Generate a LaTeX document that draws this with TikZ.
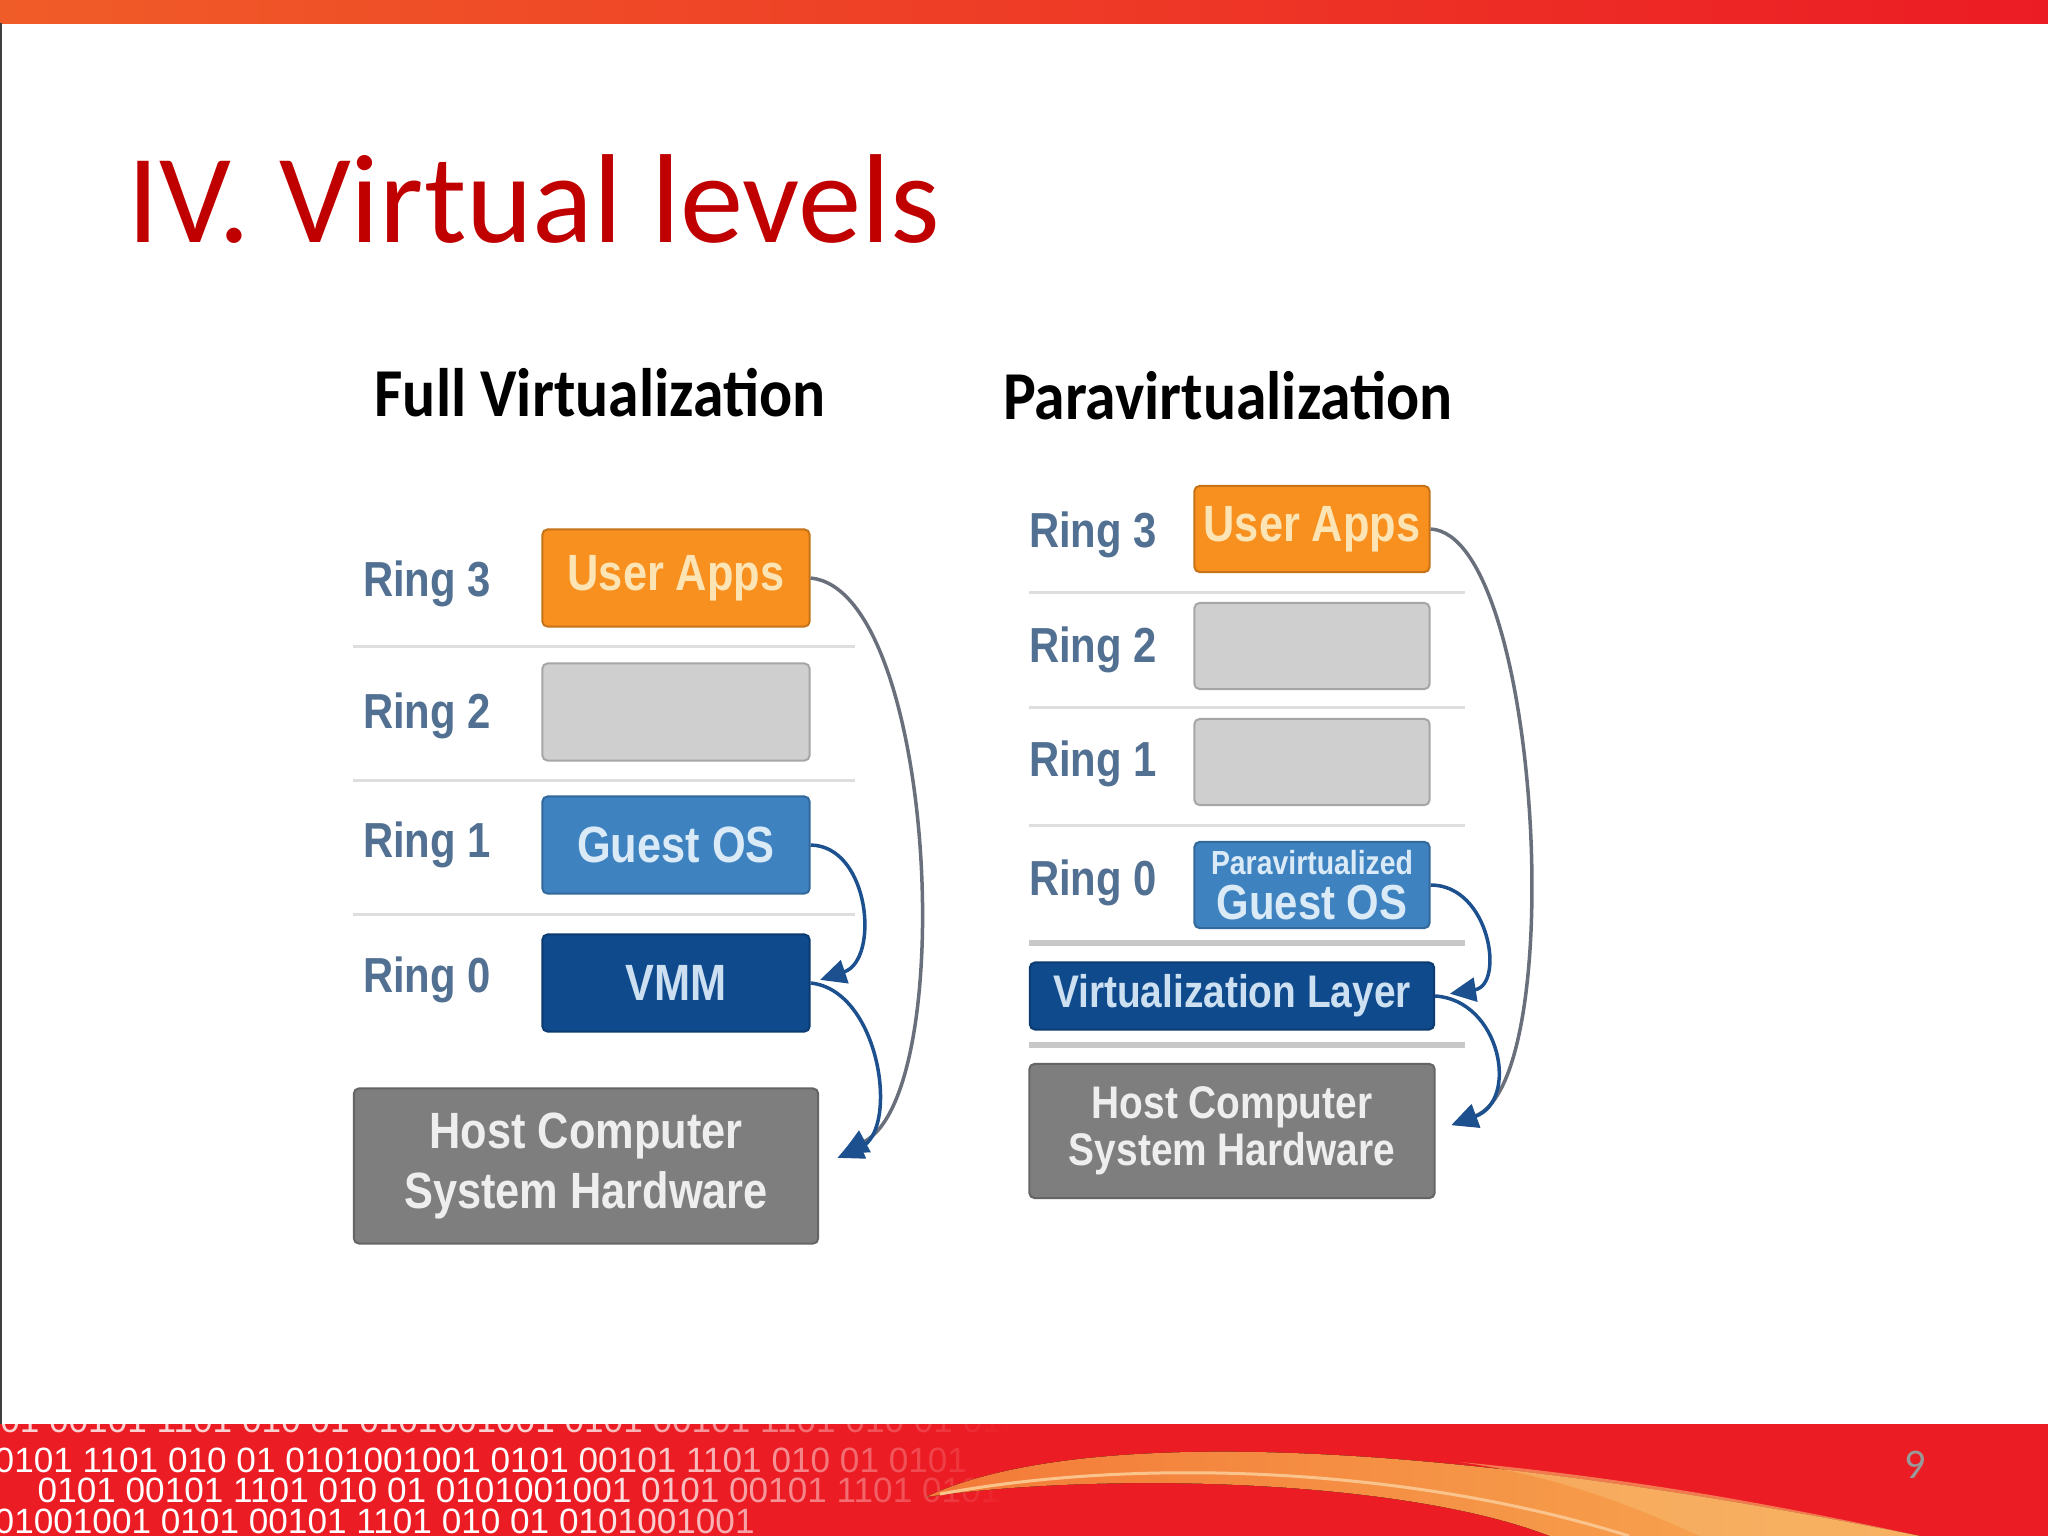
\documentclass[tikz,border=0pt]{standalone}
\usepackage{fontspec}
\usetikzlibrary{arrows.meta,fadings}
\newfontfamily\titlefont{Carlito}
\newfontfamily\headfont[FakeStretch=0.9]{Carlito}
\newfontfamily\boxfont[FakeStretch=0.85]{Liberation Sans}
\newfontfamily\bitfont{Liberation Sans}
\definecolor{titlered}{RGB}{192,0,0}
\definecolor{bandred}{RGB}{236,28,36}
\definecolor{bandorange}{RGB}{240,92,40}
\definecolor{swooshdark}{RGB}{243,122,56}
\definecolor{swooshlight}{RGB}{247,170,82}
\definecolor{swooshline}{RGB}{250,196,140}
\definecolor{ringblue}{RGB}{82,112,146}
\definecolor{appsorange}{RGB}{247,144,30}
\definecolor{appstext}{RGB}{253,228,180}
\definecolor{emptygray}{RGB}{207,207,207}
\definecolor{guestblue}{RGB}{62,130,192}
\definecolor{guesttext}{RGB}{218,234,247}
\definecolor{vmmnavy}{RGB}{14,74,140}
\definecolor{vmmtext}{RGB}{205,224,242}
\definecolor{hostgray}{RGB}{126,126,126}
\definecolor{hosttext}{RGB}{238,238,238}
\definecolor{linkgray}{RGB}{105,112,124}
\definecolor{linknavy}{RGB}{28,80,142}
\definecolor{sepgray}{RGB}{222,222,222}

\begin{document}
\begin{tikzpicture}[x=0.01cm, y=-0.01cm,
    ring/.style={font=\boxfont\bfseries\fontsize{14}{16}\selectfont, text=ringblue},
    head/.style={font=\headfont\bfseries\fontsize{19.5}{22}\selectfont, text=black},
    layer/.style={draw=#1!80!black, fill=#1, rounded corners=0.05cm,
                  line width=0.02cm, inner sep=0pt, align=center,
                  font=\boxfont\bfseries\fontsize{14.5}{16}\selectfont},
    fvbox/.style={layer=#1, minimum width=2.67cm, minimum height=0.97cm},
    pvbox/.style={layer=#1, minimum width=2.35cm, minimum height=0.86cm},
    sep/.style={draw=sepgray, line width=0.03cm},
    thicksep/.style={draw=sepgray!90!black, line width=0.06cm},
    link/.style={-{Triangle[length=0.26cm, width=0.24cm, color=linknavy]},
                 line width=0.035cm, draw=#1},
    bits/.style={font=\bitfont\fontsize{10}{12}\selectfont, text=white, anchor=west, inner sep=0pt}]

  \useasboundingbox (0,0) rectangle (2048,1536);
  \fill[white] (0,0) rectangle (2048,1536);

  % bandeau du haut
  \fill[left color=bandorange, middle color=bandorange!80!bandred,
        right color=bandred] (0,0) rectangle (2048,23);
  \draw[black!75, line width=0.02cm] (1,23) -- (1,1424);

  % titre
  \node[anchor=base west, inner sep=0pt, text=titlered,
        font=\titlefont\fontsize{36}{40}\selectfont] (title) at (127,242) {IV. Virtual levels};

  % bandeau du bas
  \begin{scope}
    \clip (0,1424) rectangle (2048,1536);
    \fill[bandred] (0,1424) rectangle (2048,1536);
    \node[bits, text=white!80!bandred] (bits0) at (-20,1420) {101 00101 1101 010 01 0101001001 0101 00101 1101 010 01 0101};
    \node[bits] (bits1) at (-6,1460) {0101 1101 010 01 0101001001 0101 00101 1101 010 01 0101};
    \node[bits] (bits2) at (37,1490) {0101 00101 1101 010 01 0101001001 0101 00101 1101 0101};
    \node[bits] (bits3) at (-6,1521) {01001001 0101 00101 1101 010 01 0101001001};
    \fill[bandred, path fading=west] (560,1424) rectangle (1010,1536);
    \fill[bandred] (1010,1424) rectangle (1100,1536);
    % vague orange
    \fill[left color=swooshdark, right color=swooshlight]
      (926,1497) .. controls (1050,1438) and (1350,1423) .. (1920,1536)
      -- (1550,1536) .. controls (1400,1478) and (1100,1472) .. cycle;
    \fill[swooshlight!85!white, opacity=0.6]
      (1460,1462) .. controls (1650,1480) and (1800,1510) .. (1920,1536)
      -- (1700,1536) .. controls (1620,1500) and (1550,1475) .. cycle;
    \draw[swooshline, line width=0.03cm]
      (940,1494) .. controls (1150,1455) and (1420,1470) .. (1629,1536);
  \end{scope}
  \node[text=black!40, font=\titlefont\fontsize{12}{14}\selectfont] (pagenum) at (1915,1465) {9};

  % Full Virtualization
  \node[head] (fvHead) at (600,393) {Full Virtualization};

  \draw[sep] (353,646) -- (855,646);
  \draw[sep] (353,780) -- (855,780);
  \draw[sep] (353,914) -- (855,914);

  \node[ring] (fvR3) at (427,584) {Ring 3};
  \node[ring] (fvR2) at (427,716) {Ring 2};
  \node[ring] (fvR1) at (427,845) {Ring 1};
  \node[ring] (fvR0) at (427,980) {Ring 0};

  \node[fvbox=appsorange, text=appstext] (fvApps) at (676,578) {User Apps};
  \node[fvbox=emptygray] (fvRing2) at (676,712) {};
  \node[fvbox=guestblue, text=guesttext] (fvGuest) at (676,845) {Guest OS};
  \node[fvbox=vmmnavy, text=vmmtext] (fvVMM) at (676,983) {VMM};
  \node[layer=hostgray, text=hosttext, minimum width=4.64cm, minimum height=1.55cm,
        font=\boxfont\bfseries\fontsize{14.5}{17}\selectfont] (fvHost) at (586,1166)
        {Host Computer\\System Hardware};

  \draw[link=linkgray, shorten >=0.26cm] (fvApps.east) .. controls (935,590) and (960,1090) .. (fvHost.east);
  \draw[link=linknavy, shorten >=0.1cm] (fvGuest.east) .. controls (870,846) and (880,960) .. (fvVMM.east);
  \draw[link=linknavy, shorten >=0.2cm] (fvVMM.east) .. controls (880,990) and (900,1130) .. (fvHost.east);

  % Paravirtualization
  \node[head] (pvHead) at (1228,396) {Paravirtualization};

  \draw[sep] (1029,592) -- (1465,592);
  \draw[sep] (1029,707) -- (1465,707);
  \draw[sep] (1029,825) -- (1465,825);
  \draw[thicksep] (1029,943) -- (1465,943);
  \draw[thicksep] (1029,1045) -- (1465,1045);

  \node[ring] (pvR3) at (1093,535) {Ring 3};
  \node[ring] (pvR2) at (1093,650) {Ring 2};
  \node[ring] (pvR1) at (1093,764) {Ring 1};
  \node[ring] (pvR0) at (1093,883) {Ring 0};

  \node[pvbox=appsorange, text=appstext] (pvApps) at (1312,529) {User Apps};
  \node[pvbox=emptygray] (pvRing2) at (1312,646) {};
  \node[pvbox=emptygray] (pvRing1) at (1312,762) {};
  \node[pvbox=guestblue, text=guesttext, font=\boxfont\bfseries\fontsize{14}{13}\selectfont] (pvGuest) at (1312,885)
        {{\fontsize{9.5}{10}\selectfont Paravirtualized}\\Guest OS};
  \node[layer=vmmnavy, text=vmmtext, minimum width=4.04cm, minimum height=0.67cm,
        font=\boxfont\bfseries\fontsize{13}{15}\selectfont] (pvLayer) at (1232,996) {Virtualization Layer};
  \node[layer=hostgray, text=hosttext, minimum width=4.05cm, minimum height=1.34cm,
        font=\boxfont\bfseries\fontsize{13}{13.5}\selectfont] (pvHost) at (1232,1131)
        {Host Computer\\System Hardware};

  \draw[link=linkgray, shorten >=0.17cm] (pvApps.east) .. controls (1540,535) and (1570,1080) .. (pvHost.east);
  \draw[link=linknavy, shorten >=0.15cm] (pvGuest.east) .. controls (1490,885) and (1505,985) .. (pvLayer.east);
  \draw[link=linknavy, shorten >=0.17cm] (pvLayer.east) .. controls (1500,1000) and (1520,1100) .. (pvHost.east);
\end{tikzpicture}
\end{document}
